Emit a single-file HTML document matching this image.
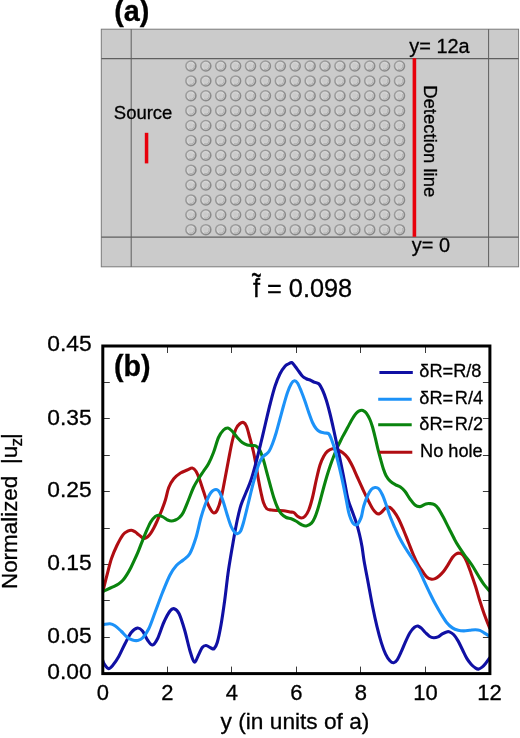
<!DOCTYPE html>
<html><head><meta charset="utf-8"><title>Figure</title>
<style>html,body{margin:0;padding:0;background:#fff}svg{display:block}text{font-family:'Liberation Sans',Arial,Helvetica,sans-serif;fill:#000;stroke:#000;stroke-width:0.3px}</style>
</head><body>
<svg width="520" height="738" viewBox="0 0 520 738">
<defs><radialGradient id="hg" cx="0.46" cy="0.46" r="0.52"><stop offset="0" stop-color="#c9c9c9"/><stop offset="0.45" stop-color="#cecece"/><stop offset="0.8" stop-color="#dcdcdc"/><stop offset="1" stop-color="#d0d0d0"/></radialGradient><linearGradient id="hs" x1="0" y1="0" x2="1" y2="1"><stop offset="0" stop-color="#a2a2a2"/><stop offset="1" stop-color="#828282"/></linearGradient><filter id="bl" x="-2%" y="-2%" width="104%" height="104%"><feGaussianBlur stdDeviation="0.45"/></filter><g id="h"><circle cx="0" cy="0" r="5.0" fill="url(#hg)" stroke="url(#hs)" stroke-width="1.55"/><path d="M3.0,-1.6 A3.4,3.4 0 0 1 -1.6,3.0" fill="none" stroke="#b0b0b0" stroke-width="1.1"/></g></defs>
<rect x="0" y="0" width="520" height="738" fill="#ffffff"/>
<text x="114.2" y="20.8" font-size="28.8" font-weight="bold">(a)</text>
<rect x="101.3" y="29.2" width="417.3" height="237.6" fill="#cbcbcb" stroke="#7a7a7a" stroke-width="1"/>
<line x1="131.2" y1="29.2" x2="131.2" y2="266.8" stroke="#5f5f5f" stroke-width="1"/>
<line x1="488.6" y1="29.2" x2="488.6" y2="266.8" stroke="#5f5f5f" stroke-width="1"/>
<line x1="101.3" y1="58.6" x2="518.6" y2="58.6" stroke="#5f5f5f" stroke-width="1.1"/>
<line x1="101.3" y1="237.1" x2="518.6" y2="237.1" stroke="#5f5f5f" stroke-width="1.1"/>
<g filter="url(#bl)">
<use href="#h" x="190.90" y="66.04"/>
<use href="#h" x="205.80" y="66.04"/>
<use href="#h" x="220.70" y="66.04"/>
<use href="#h" x="235.60" y="66.04"/>
<use href="#h" x="250.50" y="66.04"/>
<use href="#h" x="265.40" y="66.04"/>
<use href="#h" x="280.30" y="66.04"/>
<use href="#h" x="295.20" y="66.04"/>
<use href="#h" x="310.10" y="66.04"/>
<use href="#h" x="325.00" y="66.04"/>
<use href="#h" x="339.90" y="66.04"/>
<use href="#h" x="354.80" y="66.04"/>
<use href="#h" x="369.70" y="66.04"/>
<use href="#h" x="384.60" y="66.04"/>
<use href="#h" x="399.50" y="66.04"/>
<use href="#h" x="190.90" y="80.91"/>
<use href="#h" x="205.80" y="80.91"/>
<use href="#h" x="220.70" y="80.91"/>
<use href="#h" x="235.60" y="80.91"/>
<use href="#h" x="250.50" y="80.91"/>
<use href="#h" x="265.40" y="80.91"/>
<use href="#h" x="280.30" y="80.91"/>
<use href="#h" x="295.20" y="80.91"/>
<use href="#h" x="310.10" y="80.91"/>
<use href="#h" x="325.00" y="80.91"/>
<use href="#h" x="339.90" y="80.91"/>
<use href="#h" x="354.80" y="80.91"/>
<use href="#h" x="369.70" y="80.91"/>
<use href="#h" x="384.60" y="80.91"/>
<use href="#h" x="399.50" y="80.91"/>
<use href="#h" x="190.90" y="95.79"/>
<use href="#h" x="205.80" y="95.79"/>
<use href="#h" x="220.70" y="95.79"/>
<use href="#h" x="235.60" y="95.79"/>
<use href="#h" x="250.50" y="95.79"/>
<use href="#h" x="265.40" y="95.79"/>
<use href="#h" x="280.30" y="95.79"/>
<use href="#h" x="295.20" y="95.79"/>
<use href="#h" x="310.10" y="95.79"/>
<use href="#h" x="325.00" y="95.79"/>
<use href="#h" x="339.90" y="95.79"/>
<use href="#h" x="354.80" y="95.79"/>
<use href="#h" x="369.70" y="95.79"/>
<use href="#h" x="384.60" y="95.79"/>
<use href="#h" x="399.50" y="95.79"/>
<use href="#h" x="190.90" y="110.66"/>
<use href="#h" x="205.80" y="110.66"/>
<use href="#h" x="220.70" y="110.66"/>
<use href="#h" x="235.60" y="110.66"/>
<use href="#h" x="250.50" y="110.66"/>
<use href="#h" x="265.40" y="110.66"/>
<use href="#h" x="280.30" y="110.66"/>
<use href="#h" x="295.20" y="110.66"/>
<use href="#h" x="310.10" y="110.66"/>
<use href="#h" x="325.00" y="110.66"/>
<use href="#h" x="339.90" y="110.66"/>
<use href="#h" x="354.80" y="110.66"/>
<use href="#h" x="369.70" y="110.66"/>
<use href="#h" x="384.60" y="110.66"/>
<use href="#h" x="399.50" y="110.66"/>
<use href="#h" x="190.90" y="125.54"/>
<use href="#h" x="205.80" y="125.54"/>
<use href="#h" x="220.70" y="125.54"/>
<use href="#h" x="235.60" y="125.54"/>
<use href="#h" x="250.50" y="125.54"/>
<use href="#h" x="265.40" y="125.54"/>
<use href="#h" x="280.30" y="125.54"/>
<use href="#h" x="295.20" y="125.54"/>
<use href="#h" x="310.10" y="125.54"/>
<use href="#h" x="325.00" y="125.54"/>
<use href="#h" x="339.90" y="125.54"/>
<use href="#h" x="354.80" y="125.54"/>
<use href="#h" x="369.70" y="125.54"/>
<use href="#h" x="384.60" y="125.54"/>
<use href="#h" x="399.50" y="125.54"/>
<use href="#h" x="190.90" y="140.41"/>
<use href="#h" x="205.80" y="140.41"/>
<use href="#h" x="220.70" y="140.41"/>
<use href="#h" x="235.60" y="140.41"/>
<use href="#h" x="250.50" y="140.41"/>
<use href="#h" x="265.40" y="140.41"/>
<use href="#h" x="280.30" y="140.41"/>
<use href="#h" x="295.20" y="140.41"/>
<use href="#h" x="310.10" y="140.41"/>
<use href="#h" x="325.00" y="140.41"/>
<use href="#h" x="339.90" y="140.41"/>
<use href="#h" x="354.80" y="140.41"/>
<use href="#h" x="369.70" y="140.41"/>
<use href="#h" x="384.60" y="140.41"/>
<use href="#h" x="399.50" y="140.41"/>
<use href="#h" x="190.90" y="155.29"/>
<use href="#h" x="205.80" y="155.29"/>
<use href="#h" x="220.70" y="155.29"/>
<use href="#h" x="235.60" y="155.29"/>
<use href="#h" x="250.50" y="155.29"/>
<use href="#h" x="265.40" y="155.29"/>
<use href="#h" x="280.30" y="155.29"/>
<use href="#h" x="295.20" y="155.29"/>
<use href="#h" x="310.10" y="155.29"/>
<use href="#h" x="325.00" y="155.29"/>
<use href="#h" x="339.90" y="155.29"/>
<use href="#h" x="354.80" y="155.29"/>
<use href="#h" x="369.70" y="155.29"/>
<use href="#h" x="384.60" y="155.29"/>
<use href="#h" x="399.50" y="155.29"/>
<use href="#h" x="190.90" y="170.16"/>
<use href="#h" x="205.80" y="170.16"/>
<use href="#h" x="220.70" y="170.16"/>
<use href="#h" x="235.60" y="170.16"/>
<use href="#h" x="250.50" y="170.16"/>
<use href="#h" x="265.40" y="170.16"/>
<use href="#h" x="280.30" y="170.16"/>
<use href="#h" x="295.20" y="170.16"/>
<use href="#h" x="310.10" y="170.16"/>
<use href="#h" x="325.00" y="170.16"/>
<use href="#h" x="339.90" y="170.16"/>
<use href="#h" x="354.80" y="170.16"/>
<use href="#h" x="369.70" y="170.16"/>
<use href="#h" x="384.60" y="170.16"/>
<use href="#h" x="399.50" y="170.16"/>
<use href="#h" x="190.90" y="185.04"/>
<use href="#h" x="205.80" y="185.04"/>
<use href="#h" x="220.70" y="185.04"/>
<use href="#h" x="235.60" y="185.04"/>
<use href="#h" x="250.50" y="185.04"/>
<use href="#h" x="265.40" y="185.04"/>
<use href="#h" x="280.30" y="185.04"/>
<use href="#h" x="295.20" y="185.04"/>
<use href="#h" x="310.10" y="185.04"/>
<use href="#h" x="325.00" y="185.04"/>
<use href="#h" x="339.90" y="185.04"/>
<use href="#h" x="354.80" y="185.04"/>
<use href="#h" x="369.70" y="185.04"/>
<use href="#h" x="384.60" y="185.04"/>
<use href="#h" x="399.50" y="185.04"/>
<use href="#h" x="190.90" y="199.91"/>
<use href="#h" x="205.80" y="199.91"/>
<use href="#h" x="220.70" y="199.91"/>
<use href="#h" x="235.60" y="199.91"/>
<use href="#h" x="250.50" y="199.91"/>
<use href="#h" x="265.40" y="199.91"/>
<use href="#h" x="280.30" y="199.91"/>
<use href="#h" x="295.20" y="199.91"/>
<use href="#h" x="310.10" y="199.91"/>
<use href="#h" x="325.00" y="199.91"/>
<use href="#h" x="339.90" y="199.91"/>
<use href="#h" x="354.80" y="199.91"/>
<use href="#h" x="369.70" y="199.91"/>
<use href="#h" x="384.60" y="199.91"/>
<use href="#h" x="399.50" y="199.91"/>
<use href="#h" x="190.90" y="214.79"/>
<use href="#h" x="205.80" y="214.79"/>
<use href="#h" x="220.70" y="214.79"/>
<use href="#h" x="235.60" y="214.79"/>
<use href="#h" x="250.50" y="214.79"/>
<use href="#h" x="265.40" y="214.79"/>
<use href="#h" x="280.30" y="214.79"/>
<use href="#h" x="295.20" y="214.79"/>
<use href="#h" x="310.10" y="214.79"/>
<use href="#h" x="325.00" y="214.79"/>
<use href="#h" x="339.90" y="214.79"/>
<use href="#h" x="354.80" y="214.79"/>
<use href="#h" x="369.70" y="214.79"/>
<use href="#h" x="384.60" y="214.79"/>
<use href="#h" x="399.50" y="214.79"/>
<use href="#h" x="190.90" y="229.66"/>
<use href="#h" x="205.80" y="229.66"/>
<use href="#h" x="220.70" y="229.66"/>
<use href="#h" x="235.60" y="229.66"/>
<use href="#h" x="250.50" y="229.66"/>
<use href="#h" x="265.40" y="229.66"/>
<use href="#h" x="280.30" y="229.66"/>
<use href="#h" x="295.20" y="229.66"/>
<use href="#h" x="310.10" y="229.66"/>
<use href="#h" x="325.00" y="229.66"/>
<use href="#h" x="339.90" y="229.66"/>
<use href="#h" x="354.80" y="229.66"/>
<use href="#h" x="369.70" y="229.66"/>
<use href="#h" x="384.60" y="229.66"/>
<use href="#h" x="399.50" y="229.66"/>
</g>
<rect x="412.6" y="58.2" width="3.6" height="178.6" fill="#e8000b"/>
<rect x="144.8" y="132.8" width="3.5" height="30.6" fill="#e8000b"/>
<text x="113.8" y="119.2" font-size="18.5">Source</text>
<text x="409.3" y="53" font-size="19.9">y= 12a</text>
<text x="411.8" y="251.5" font-size="19.9">y= 0</text>
<text transform="translate(424.3,85.2) rotate(90)" font-size="18.5">Detection line</text>
<text x="253" y="296.7" font-size="25.3">f = 0.098</text>
<text transform="translate(251.3,285.6) scale(0.88,1.55)" font-size="20">~</text>
<g stroke="#3a3a3a" stroke-width="1">
<line x1="102.8" y1="637.5" x2="109.8" y2="637.5"/>
<line x1="489.9" y1="637.5" x2="482.9" y2="637.5"/>
<line x1="102.8" y1="600.5" x2="109.8" y2="600.5"/>
<line x1="489.9" y1="600.5" x2="482.9" y2="600.5"/>
<line x1="102.8" y1="564.5" x2="109.8" y2="564.5"/>
<line x1="489.9" y1="564.5" x2="482.9" y2="564.5"/>
<line x1="102.8" y1="528.5" x2="109.8" y2="528.5"/>
<line x1="489.9" y1="528.5" x2="482.9" y2="528.5"/>
<line x1="102.8" y1="491.5" x2="109.8" y2="491.5"/>
<line x1="489.9" y1="491.5" x2="482.9" y2="491.5"/>
<line x1="102.8" y1="455.5" x2="109.8" y2="455.5"/>
<line x1="489.9" y1="455.5" x2="482.9" y2="455.5"/>
<line x1="102.8" y1="418.5" x2="109.8" y2="418.5"/>
<line x1="489.9" y1="418.5" x2="482.9" y2="418.5"/>
<line x1="102.8" y1="382.5" x2="109.8" y2="382.5"/>
<line x1="489.9" y1="382.5" x2="482.9" y2="382.5"/>
<line x1="167.5" y1="346.0" x2="167.5" y2="353.0"/>
<line x1="167.5" y1="673.6" x2="167.5" y2="666.6"/>
<line x1="231.5" y1="346.0" x2="231.5" y2="353.0"/>
<line x1="231.5" y1="673.6" x2="231.5" y2="666.6"/>
<line x1="296.5" y1="346.0" x2="296.5" y2="353.0"/>
<line x1="296.5" y1="673.6" x2="296.5" y2="666.6"/>
<line x1="360.5" y1="346.0" x2="360.5" y2="353.0"/>
<line x1="360.5" y1="673.6" x2="360.5" y2="666.6"/>
<line x1="425.5" y1="346.0" x2="425.5" y2="353.0"/>
<line x1="425.5" y1="673.6" x2="425.5" y2="666.6"/>
</g>
<clipPath id="cp"><rect x="102.8" y="346.0" width="387.1" height="327.6"/></clipPath>
<g fill="none" stroke-width="3.1" stroke-linejoin="round" stroke-linecap="round" clip-path="url(#cp)">
<path stroke="#b00d12" d="M102.70,592.00 C102.88,591.28 102.97,590.98 103.80,587.70 C104.63,584.42 106.42,577.17 107.70,572.30 C108.98,567.43 109.97,562.97 111.50,558.50 C113.03,554.03 114.97,549.48 116.90,545.50 C118.83,541.52 121.30,536.98 123.10,534.60 C124.90,532.22 126.30,531.93 127.70,531.20 C129.10,530.47 130.22,530.07 131.50,530.20 C132.78,530.33 134.23,531.27 135.40,532.00 C136.57,532.73 137.35,533.67 138.50,534.60 C139.65,535.53 141.28,536.97 142.30,537.60 C143.32,538.23 143.70,538.53 144.60,538.40 C145.50,538.27 146.67,537.68 147.70,536.80 C148.73,535.92 149.78,534.57 150.80,533.10 C151.82,531.63 152.78,529.93 153.80,528.00 C154.82,526.07 155.62,524.37 156.90,521.50 C158.18,518.63 160.08,514.38 161.50,510.80 C162.92,507.22 164.19,503.88 165.40,500.00 C166.61,496.12 167.36,491.04 168.75,487.50 C170.14,483.96 171.79,481.17 173.75,478.75 C175.71,476.33 178.25,474.46 180.50,473.00 C182.75,471.54 185.29,470.83 187.25,470.00 C189.21,469.17 190.79,467.79 192.25,468.00 C193.71,468.21 194.75,469.25 196.00,471.25 C197.25,473.25 198.50,476.67 199.75,480.00 C201.00,483.33 202.25,487.50 203.50,491.25 C204.75,495.00 206.00,499.38 207.25,502.50 C208.50,505.62 209.88,508.25 211.00,510.00 C212.12,511.75 212.96,513.00 214.00,513.00 C215.04,513.00 216.08,512.38 217.25,510.00 C218.42,507.62 219.75,503.75 221.00,498.75 C222.25,493.75 223.50,486.46 224.75,480.00 C226.00,473.54 227.25,466.46 228.50,460.00 C229.75,453.54 231.00,446.46 232.25,441.25 C233.50,436.04 234.75,431.67 236.00,428.75 C237.25,425.83 238.50,424.79 239.75,423.75 C241.00,422.71 242.38,422.08 243.50,422.50 C244.62,422.92 245.46,423.75 246.50,426.25 C247.54,428.75 248.58,433.21 249.75,437.50 C250.92,441.79 252.46,447.42 253.50,452.00 C254.54,456.58 255.17,460.33 256.00,465.00 C256.83,469.67 257.67,475.42 258.50,480.00 C259.33,484.58 260.18,488.75 261.00,492.50 C261.82,496.25 262.48,499.79 263.45,502.50 C264.42,505.21 265.51,507.50 266.82,508.75 C268.13,510.00 269.54,509.71 271.32,510.00 C273.10,510.29 275.43,510.38 277.50,510.50 C279.57,510.62 281.67,510.50 283.75,510.75 C285.83,511.00 288.33,511.71 290.00,512.00 C291.67,512.29 292.50,511.79 293.75,512.50 C295.00,513.21 296.25,515.33 297.50,516.25 C298.75,517.17 300.00,518.00 301.25,518.00 C302.50,518.00 303.75,517.58 305.00,516.25 C306.25,514.92 307.50,513.12 308.75,510.00 C310.00,506.88 311.25,502.50 312.50,497.50 C313.75,492.50 315.00,485.42 316.25,480.00 C317.50,474.58 318.75,468.96 320.00,465.00 C321.25,461.04 322.50,458.54 323.75,456.25 C325.00,453.96 326.04,452.50 327.50,451.25 C328.96,450.00 330.83,448.96 332.50,448.75 C334.17,448.54 335.83,449.38 337.50,450.00 C339.17,450.62 340.83,451.25 342.50,452.50 C344.17,453.75 345.83,455.21 347.50,457.50 C349.17,459.79 350.83,462.92 352.50,466.25 C354.17,469.58 355.83,473.79 357.50,477.50 C359.17,481.21 360.83,484.92 362.50,488.50 C364.17,492.08 365.83,495.67 367.50,499.00 C369.17,502.33 371.04,506.17 372.50,508.50 C373.96,510.83 375.08,512.12 376.25,513.00 C377.42,513.88 378.46,514.04 379.50,513.75 C380.54,513.46 381.38,512.29 382.50,511.25 C383.62,510.21 385.00,508.12 386.25,507.50 C387.50,506.88 388.75,506.88 390.00,507.50 C391.25,508.12 392.33,509.38 393.75,511.25 C395.17,513.12 396.88,515.62 398.50,518.75 C400.12,521.88 401.83,526.04 403.50,530.00 C405.17,533.96 406.83,538.33 408.50,542.50 C410.17,546.67 411.86,551.25 413.50,555.00 C415.14,558.75 416.81,562.25 418.33,565.00 C419.85,567.75 421.25,569.53 422.63,571.50 C424.01,573.47 425.28,575.53 426.64,576.80 C428.00,578.07 429.39,578.80 430.80,579.10 C432.21,579.40 433.67,579.17 435.10,578.60 C436.53,578.03 437.97,576.92 439.40,575.70 C440.83,574.48 442.25,573.13 443.70,571.30 C445.15,569.47 446.65,567.00 448.10,564.70 C449.55,562.40 451.07,559.28 452.40,557.50 C453.73,555.72 454.90,554.72 456.10,554.00 C457.30,553.28 458.43,553.00 459.60,553.20 C460.77,553.40 461.90,553.77 463.10,555.20 C464.30,556.63 465.47,558.77 466.80,561.80 C468.13,564.83 469.65,569.32 471.10,573.40 C472.55,577.48 474.05,581.73 475.50,586.30 C476.95,590.87 478.37,596.23 479.80,600.80 C481.23,605.37 482.47,609.17 484.10,613.70 C485.73,618.23 488.68,625.62 489.60,628.00"/>
<path stroke="#0a840e" d="M102.70,591.50 C102.88,591.42 102.20,591.72 103.80,591.00 C105.40,590.28 109.85,588.37 112.30,587.20 C114.75,586.03 116.70,585.20 118.50,584.00 C120.30,582.80 121.70,581.57 123.10,580.00 C124.50,578.43 125.62,576.65 126.90,574.60 C128.18,572.55 129.52,570.18 130.80,567.70 C132.08,565.22 133.32,562.52 134.60,559.70 C135.88,556.88 137.35,553.57 138.50,550.80 C139.65,548.03 140.48,545.67 141.50,543.10 C142.52,540.53 143.57,537.88 144.60,535.40 C145.63,532.92 146.67,530.47 147.70,528.20 C148.73,525.93 149.52,523.77 150.80,521.80 C152.08,519.83 154.12,517.50 155.40,516.40 C156.68,515.30 157.22,515.10 158.50,515.20 C159.78,515.30 161.57,516.20 163.10,517.00 C164.63,517.80 166.30,519.33 167.70,520.00 C169.10,520.67 170.21,521.00 171.50,521.00 C172.79,521.00 174.12,520.58 175.44,520.00 C176.76,519.42 178.10,518.75 179.40,517.50 C180.70,516.25 181.73,515.42 183.25,512.50 C184.77,509.58 186.79,504.17 188.50,500.00 C190.21,495.83 191.83,491.04 193.50,487.50 C195.17,483.96 196.83,481.46 198.50,478.75 C200.17,476.04 201.83,473.75 203.50,471.25 C205.17,468.75 206.83,466.88 208.50,463.75 C210.17,460.62 211.83,456.88 213.50,452.50 C215.17,448.12 216.83,441.25 218.50,437.50 C220.17,433.75 221.92,431.58 223.50,430.00 C225.08,428.42 226.54,427.79 228.00,428.00 C229.46,428.21 230.71,429.67 232.25,431.25 C233.79,432.83 235.58,435.62 237.25,437.50 C238.92,439.38 240.58,441.25 242.25,442.50 C243.92,443.75 245.58,444.50 247.25,445.00 C248.92,445.50 250.79,445.33 252.25,445.50 C253.71,445.67 254.75,445.25 256.00,446.00 C257.25,446.75 258.51,447.67 259.75,450.00 C260.99,452.33 262.27,456.25 263.45,460.00 C264.63,463.75 265.69,468.33 266.82,472.50 C267.94,476.67 269.04,480.83 270.20,485.00 C271.36,489.17 272.53,493.75 273.75,497.50 C274.97,501.25 276.25,504.79 277.50,507.50 C278.75,510.21 279.79,512.08 281.25,513.75 C282.71,515.42 284.58,516.67 286.25,517.50 C287.92,518.33 289.58,518.12 291.25,518.75 C292.92,519.38 294.58,520.29 296.25,521.25 C297.92,522.21 299.58,523.71 301.25,524.50 C302.92,525.29 304.54,526.22 306.25,526.00 C307.96,525.78 310.04,524.70 311.50,523.20 C312.96,521.70 313.92,519.45 315.00,517.00 C316.08,514.55 317.08,511.42 318.00,508.50 C318.92,505.58 319.67,502.58 320.50,499.50 C321.33,496.42 321.95,493.83 323.00,490.00 C324.05,486.17 325.55,480.67 326.80,476.50 C328.05,472.33 329.27,468.58 330.50,465.00 C331.73,461.42 333.03,458.00 334.20,455.00 C335.37,452.00 336.62,449.00 337.50,447.00 C338.38,445.00 338.67,444.68 339.50,443.00 C340.33,441.32 341.17,439.44 342.50,436.90 C343.83,434.36 346.04,430.43 347.50,427.75 C348.96,425.07 350.21,422.66 351.25,420.80 C352.29,418.94 352.92,417.87 353.75,416.60 C354.58,415.33 355.42,414.12 356.25,413.20 C357.08,412.28 357.81,411.59 358.75,411.10 C359.69,410.61 360.96,410.20 361.90,410.25 C362.84,410.30 363.63,410.88 364.40,411.40 C365.17,411.92 365.58,412.05 366.50,413.40 C367.42,414.75 368.88,417.18 369.90,419.50 C370.92,421.82 371.70,424.23 372.60,427.30 C373.50,430.37 374.40,434.22 375.30,437.90 C376.20,441.58 377.10,445.78 378.00,449.40 C378.90,453.02 379.80,456.33 380.70,459.60 C381.60,462.87 382.50,466.30 383.40,469.00 C384.30,471.70 384.97,473.77 386.10,475.80 C387.23,477.83 388.62,479.70 390.20,481.20 C391.78,482.70 393.90,483.85 395.60,484.80 C397.30,485.75 398.82,485.78 400.40,486.90 C401.98,488.02 403.50,489.48 405.10,491.50 C406.70,493.52 408.35,496.75 410.00,499.00 C411.65,501.25 413.33,503.73 415.00,505.00 C416.67,506.27 418.20,506.78 420.00,506.60 C421.80,506.42 424.13,504.40 425.80,503.90 C427.47,503.40 428.57,503.48 430.00,503.60 C431.43,503.72 433.02,503.78 434.40,504.60 C435.78,505.42 436.85,506.47 438.30,508.50 C439.75,510.53 441.35,513.55 443.10,516.80 C444.85,520.05 446.88,524.23 448.80,528.00 C450.72,531.77 452.98,536.37 454.60,539.40 C456.22,542.43 456.90,543.67 458.50,546.20 C460.10,548.73 461.97,551.47 464.20,554.60 C466.43,557.73 469.53,561.47 471.90,565.00 C474.27,568.53 476.37,572.52 478.40,575.80 C480.43,579.08 482.23,582.17 484.10,584.70 C485.97,587.23 488.68,589.95 489.60,591.00"/>
<path stroke="#1010a4" d="M102.70,660.50 C103.00,661.17 103.53,663.15 104.50,664.50 C105.47,665.85 107.08,668.52 108.50,668.60 C109.92,668.68 111.29,667.02 113.00,665.00 C114.71,662.98 116.75,660.04 118.75,656.50 C120.75,652.96 122.92,647.75 125.00,643.75 C127.08,639.75 129.17,635.12 131.25,632.50 C133.33,629.88 135.62,628.25 137.50,628.00 C139.38,627.75 140.83,629.00 142.50,631.00 C144.17,633.00 145.83,637.67 147.50,640.00 C149.17,642.33 150.83,645.21 152.50,645.00 C154.17,644.79 155.62,642.50 157.50,638.75 C159.38,635.00 161.67,627.12 163.75,622.50 C165.83,617.88 168.25,613.29 170.00,611.00 C171.75,608.71 172.73,608.29 174.25,608.75 C175.77,609.21 177.39,610.21 179.12,613.75 C180.85,617.29 182.85,623.96 184.62,630.00 C186.39,636.04 188.15,644.67 189.75,650.00 C191.35,655.33 192.79,661.17 194.25,662.00 C195.71,662.83 197.17,657.42 198.50,655.00 C199.83,652.58 201.00,649.08 202.25,647.50 C203.50,645.92 204.54,645.42 206.00,645.50 C207.46,645.58 209.67,647.46 211.00,648.00 C212.33,648.54 212.96,649.67 214.00,648.75 C215.04,647.83 216.08,646.46 217.25,642.50 C218.42,638.54 219.75,632.08 221.00,625.00 C222.25,617.92 223.50,609.17 224.75,600.00 C226.00,590.83 227.04,580.00 228.50,570.00 C229.96,560.00 232.04,548.33 233.50,540.00 C234.96,531.67 236.00,525.83 237.25,520.00 C238.50,514.17 239.54,509.58 241.00,505.00 C242.46,500.42 244.33,496.67 246.00,492.50 C247.67,488.33 249.33,485.00 251.00,480.00 C252.67,475.00 254.33,468.75 256.00,462.50 C257.67,456.25 259.38,449.17 261.00,442.50 C262.62,435.83 264.17,428.96 265.70,422.50 C267.23,416.04 268.65,409.79 270.20,403.75 C271.75,397.71 273.37,391.25 275.00,386.25 C276.63,381.25 278.33,377.08 280.00,373.75 C281.67,370.42 283.54,367.92 285.00,366.25 C286.46,364.58 287.62,364.38 288.75,363.75 C289.88,363.12 290.71,362.08 291.75,362.50 C292.79,362.92 293.83,364.79 295.00,366.25 C296.17,367.71 297.50,369.58 298.75,371.25 C300.00,372.92 301.25,375.00 302.50,376.25 C303.75,377.50 305.00,378.12 306.25,378.75 C307.50,379.38 308.75,379.46 310.00,380.00 C311.25,380.54 312.29,381.38 313.75,382.00 C315.21,382.62 317.29,382.42 318.75,383.75 C320.21,385.08 321.25,387.29 322.50,390.00 C323.75,392.71 325.00,396.04 326.25,400.00 C327.50,403.96 328.75,408.75 330.00,413.75 C331.25,418.75 332.50,424.38 333.75,430.00 C335.00,435.62 336.25,441.67 337.50,447.50 C338.75,453.33 340.00,458.92 341.25,465.00 C342.50,471.08 343.86,478.23 345.00,484.00 C346.14,489.77 346.88,495.00 348.10,499.60 C349.32,504.20 350.95,507.80 352.30,511.60 C353.65,515.40 355.02,518.67 356.20,522.40 C357.38,526.13 358.43,529.98 359.40,534.00 C360.37,538.02 361.23,542.10 362.00,546.50 C362.77,550.90 362.95,554.23 364.00,560.40 C365.05,566.57 366.87,575.82 368.30,583.50 C369.73,591.18 371.15,599.30 372.60,606.50 C374.05,613.70 375.55,620.68 377.00,626.70 C378.45,632.72 379.87,638.03 381.30,642.60 C382.73,647.17 384.17,651.07 385.60,654.10 C387.03,657.13 388.55,659.35 389.90,660.80 C391.25,662.25 392.48,662.95 393.70,662.80 C394.92,662.65 395.90,661.83 397.20,659.90 C398.50,657.97 400.07,654.33 401.50,651.20 C402.93,648.07 404.37,644.22 405.80,641.10 C407.23,637.98 408.65,634.80 410.10,632.50 C411.55,630.20 413.18,628.37 414.50,627.30 C415.82,626.23 416.91,625.95 418.05,626.10 C419.19,626.25 420.11,627.13 421.32,628.20 C422.53,629.27 423.99,631.17 425.33,632.50 C426.67,633.83 427.97,635.33 429.35,636.20 C430.73,637.07 432.16,637.60 433.60,637.70 C435.04,637.80 436.55,637.43 438.00,636.80 C439.45,636.17 440.87,634.72 442.30,633.90 C443.73,633.08 445.40,632.23 446.60,631.90 C447.80,631.57 448.30,631.42 449.50,631.90 C450.70,632.38 452.35,633.27 453.80,634.80 C455.25,636.33 456.75,638.60 458.20,641.10 C459.65,643.60 461.07,646.92 462.50,649.80 C463.93,652.68 465.37,656.00 466.80,658.40 C468.23,660.80 469.65,662.60 471.10,664.20 C472.55,665.80 474.28,667.18 475.50,668.00 C476.72,668.82 477.30,669.25 478.40,669.10 C479.50,668.95 480.90,668.05 482.10,667.10 C483.30,666.15 484.35,664.92 485.60,663.40 C486.85,661.88 488.93,658.90 489.60,658.00"/>
<path stroke="#1c92f8" d="M102.70,624.80 C102.88,624.75 102.53,624.67 103.75,624.50 C104.97,624.33 108.12,623.54 110.00,623.75 C111.88,623.96 113.12,624.50 115.00,625.75 C116.88,627.00 119.17,629.29 121.25,631.25 C123.33,633.21 125.62,636.04 127.50,637.50 C129.38,638.96 130.83,639.50 132.50,640.00 C134.17,640.50 135.83,640.83 137.50,640.50 C139.17,640.17 140.62,639.96 142.50,638.00 C144.38,636.04 146.67,633.00 148.75,628.75 C150.83,624.50 152.71,618.54 155.00,612.50 C157.29,606.46 160.00,598.75 162.50,592.50 C165.00,586.25 167.69,579.50 170.00,575.00 C172.31,570.50 174.17,568.00 176.38,565.50 C178.59,563.00 181.02,561.96 183.25,560.00 C185.48,558.04 187.62,557.50 189.75,553.75 C191.88,550.00 194.12,543.54 196.00,537.50 C197.88,531.46 199.33,523.33 201.00,517.50 C202.67,511.67 204.33,506.67 206.00,502.50 C207.67,498.33 209.33,494.67 211.00,492.50 C212.67,490.33 214.54,489.50 216.00,489.50 C217.46,489.50 218.50,490.33 219.75,492.50 C221.00,494.67 222.25,498.75 223.50,502.50 C224.75,506.25 226.00,511.04 227.25,515.00 C228.50,518.96 229.75,523.33 231.00,526.25 C232.25,529.17 233.71,531.25 234.75,532.50 C235.79,533.75 236.29,533.96 237.25,533.75 C238.21,533.54 239.46,533.12 240.50,531.25 C241.54,529.38 242.38,526.46 243.50,522.50 C244.62,518.54 246.00,512.58 247.25,507.50 C248.50,502.42 249.75,497.00 251.00,492.00 C252.25,487.00 253.50,482.00 254.75,477.50 C256.00,473.00 257.25,468.33 258.50,465.00 C259.75,461.67 261.05,459.25 262.25,457.50 C263.45,455.75 264.56,455.54 265.70,454.50 C266.84,453.46 267.94,453.04 269.07,451.25 C270.20,449.46 271.30,446.88 272.50,443.75 C273.70,440.62 275.00,436.67 276.25,432.50 C277.50,428.33 278.75,423.33 280.00,418.75 C281.25,414.17 282.50,409.38 283.75,405.00 C285.00,400.62 286.25,396.04 287.50,392.50 C288.75,388.96 290.08,385.71 291.25,383.75 C292.42,381.79 293.46,380.88 294.50,380.75 C295.54,380.62 296.38,381.25 297.50,383.00 C298.62,384.75 300.00,388.21 301.25,391.25 C302.50,394.29 303.75,397.71 305.00,401.25 C306.25,404.79 307.50,408.96 308.75,412.50 C310.00,416.04 311.25,419.79 312.50,422.50 C313.75,425.21 315.00,427.21 316.25,428.75 C317.50,430.29 318.54,431.04 320.00,431.75 C321.46,432.46 323.54,432.67 325.00,433.00 C326.46,433.33 327.71,432.79 328.75,433.75 C329.79,434.71 330.21,436.04 331.25,438.75 C332.29,441.46 333.75,445.62 335.00,450.00 C336.25,454.38 337.50,459.79 338.75,465.00 C340.00,470.21 341.27,475.58 342.50,481.25 C343.73,486.92 345.07,493.79 346.10,499.00 C347.13,504.21 347.88,509.08 348.70,512.50 C349.52,515.92 350.23,517.65 351.00,519.50 C351.77,521.35 352.50,522.68 353.30,523.60 C354.10,524.52 355.02,525.00 355.80,525.00 C356.58,525.00 357.33,524.35 358.00,523.60 C358.67,522.85 359.20,521.77 359.80,520.50 C360.40,519.23 360.94,518.42 361.60,516.00 C362.26,513.58 362.77,509.33 363.75,506.00 C364.73,502.67 366.25,498.75 367.50,496.00 C368.75,493.25 370.00,490.92 371.25,489.50 C372.50,488.08 373.75,487.62 375.00,487.50 C376.25,487.38 377.50,487.50 378.75,488.75 C380.00,490.00 381.25,492.29 382.50,495.00 C383.75,497.71 385.00,501.46 386.25,505.00 C387.50,508.54 388.58,512.50 390.00,516.25 C391.42,520.00 393.32,524.21 394.75,527.50 C396.18,530.79 396.99,532.83 398.60,536.00 C400.21,539.17 402.23,542.92 404.40,546.50 C406.57,550.08 409.23,553.75 411.60,557.50 C413.97,561.25 416.56,565.15 418.61,569.00 C420.67,572.85 422.14,576.75 423.93,580.60 C425.72,584.45 427.49,588.27 429.35,592.10 C431.21,595.93 433.18,600.00 435.10,603.60 C437.03,607.20 438.98,610.57 440.90,613.70 C442.82,616.83 444.68,620.03 446.60,622.40 C448.52,624.77 450.47,626.58 452.40,627.90 C454.33,629.22 456.28,629.80 458.20,630.30 C460.12,630.80 461.98,630.90 463.90,630.90 C465.82,630.90 467.77,630.50 469.70,630.30 C471.63,630.10 473.82,629.68 475.50,629.70 C477.18,629.72 478.37,629.88 479.80,630.40 C481.23,630.92 482.47,631.83 484.10,632.80 C485.73,633.77 488.68,635.63 489.60,636.20"/>
</g>
<rect x="102.8" y="346.0" width="387.1" height="327.6" fill="none" stroke="#000" stroke-width="3"/>
<text x="91.7" y="351.1" font-size="22.8" text-anchor="end">0.45</text>
<text x="91.7" y="424.5" font-size="22.8" text-anchor="end">0.35</text>
<text x="91.7" y="497.3" font-size="22.8" text-anchor="end">0.25</text>
<text x="91.7" y="570.1" font-size="22.8" text-anchor="end">0.15</text>
<text x="91.7" y="642.9" font-size="22.8" text-anchor="end">0.05</text>
<text x="91.7" y="678.7" font-size="22.8" text-anchor="end">0.00</text>
<text x="102.8" y="699.8" font-size="22" text-anchor="middle">0</text>
<text x="167.3" y="699.8" font-size="22" text-anchor="middle">2</text>
<text x="231.8" y="699.8" font-size="22" text-anchor="middle">4</text>
<text x="296.3" y="699.8" font-size="22" text-anchor="middle">6</text>
<text x="360.9" y="699.8" font-size="22" text-anchor="middle">8</text>
<text x="425.4" y="699.8" font-size="22" text-anchor="middle">10</text>
<text x="489.6" y="699.8" font-size="22" text-anchor="middle">12</text>
<text x="295" y="729.3" font-size="22.7" text-anchor="middle">y (in units of a)</text>
<text transform="translate(17.1,589) rotate(-90)" font-size="22.4">Normalized<tspan dx="11.8">|u</tspan><tspan font-size="17" dy="4.5" dx="-0.8">z</tspan><tspan dy="-4.5" dx="-1.1">|</tspan></text>
<text x="114" y="375.6" font-size="28.6" font-weight="bold">(b)</text>
<line x1="379.4" y1="372.5" x2="412.8" y2="372.5" stroke="#1010a4" stroke-width="3"/>
<text x="419.3" y="376.8" font-size="18.2">δR=R/8</text>
<line x1="378.2" y1="399.3" x2="411.7" y2="399.3" stroke="#1c92f8" stroke-width="3"/>
<text x="419.3" y="404.2" font-size="18.2">δR=<tspan dx="1.6">R/4</tspan></text>
<line x1="378.2" y1="424.7" x2="411.7" y2="424.7" stroke="#0a840e" stroke-width="3"/>
<text x="419.3" y="430.2" font-size="18.2">δR=<tspan dx="1.6">R/2</tspan></text>
<line x1="379.3" y1="452.2" x2="412.3" y2="452.2" stroke="#b00d12" stroke-width="3"/>
<text x="420.0" y="457.0" font-size="18.2">No hole</text>
</svg>
</body></html>
